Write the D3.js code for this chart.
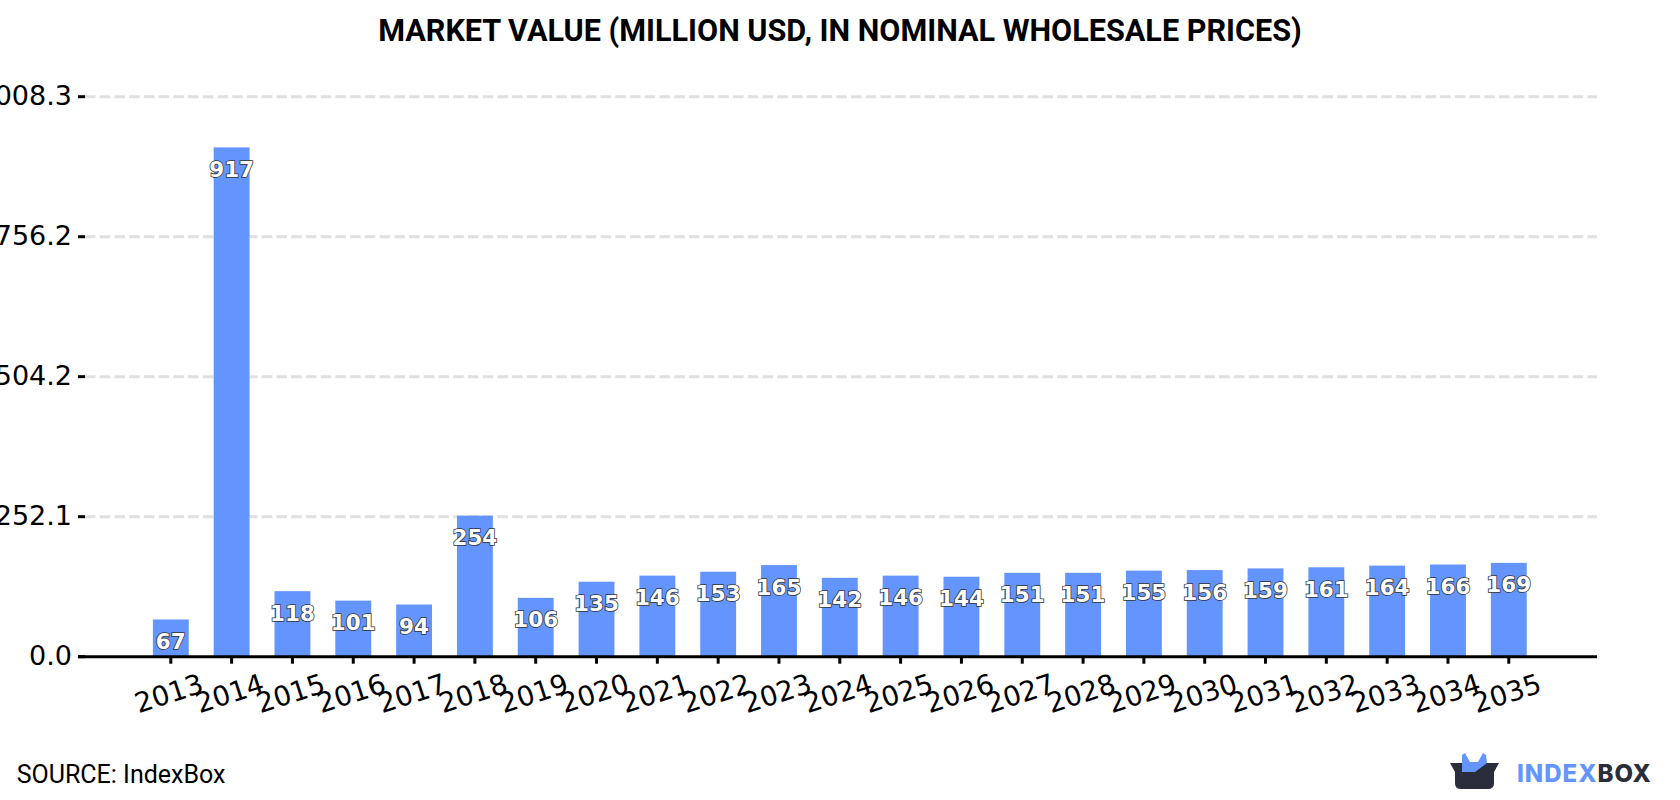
<!DOCTYPE html>
<html>
<head>
<meta charset="utf-8">
<script src="https://cdn.jsdelivr.net/npm/d3@7/dist/d3.min.js"></script>
<style>
html,body{margin:0;padding:0;background:#fff;overflow:hidden}
svg{display:block}
</style>
</head>
<body>
<svg id="chart" width="1680" height="800"></svg>
<script>
const years = [2013,2014,2015,2016,2017,2018,2019,2020,2021,2022,2023,2024,2025,2026,2027,2028,2029,2030,2031,2032,2033,2034,2035];
const marketValue = [67,917,118,101,94,254,106,135,146,153,165,142,146,144,151,151,155,156,159,161,164,166,169];
const yTicks = [0,252.1,504.2,756.2,1008.3];
const chartTitle = "MARKET VALUE (MILLION USD, IN NOMINAL WHOLESALE PRICES)";
const sourceText = "SOURCE: IndexBox";

const svg = d3.select("#chart");
const plot = {left:85, right:1597, top:96.7, bottom:656.7};

const x = d3.scaleBand().domain(years).range([140.4,1539.2]).paddingInner(0.41).paddingOuter(0.205);
const y = d3.scaleLinear().domain([0,1008.3]).range([plot.bottom,plot.top]);

// Title
svg.append("text").attr("x",840).attr("y",41).attr("text-anchor","middle")
  .attr("font-family","Roboto").attr("font-weight",700).attr("font-size",30.6).attr("fill","#000")
  .text(chartTitle);

// Horizontal grid
svg.append("g").selectAll("line").data(yTicks.filter(d=>d>0)).join("line")
  .attr("x1",plot.left).attr("x2",plot.right)
  .attr("y1",d=>y(d)).attr("y2",d=>y(d))
  .attr("stroke","#e0e0e0").attr("stroke-width",3).attr("stroke-dasharray","10.5 4.23");

// Bars
svg.append("g").selectAll("rect").data(years).join("rect")
  .attr("x",d=>x(d)).attr("width",x.bandwidth())
  .attr("y",(d,i)=>y(marketValue[i]))
  .attr("height",(d,i)=>y(0)-y(marketValue[i]))
  .attr("fill","#6495ff");

// Value axis
const yAxis = d3.axisLeft(y).tickValues(yTicks).tickFormat(d3.format(".1f")).tickSize(7).tickPadding(6).offset(0);
const gy = svg.append("g").attr("transform",`translate(${plot.left},0)`).call(yAxis);
gy.select(".domain").remove();
gy.selectAll("line").attr("stroke","#000").attr("stroke-width",3);
gy.selectAll("text").attr("font-family","DejaVu Sans").attr("font-size",27).attr("fill","#000");

// Year axis
const xAxis = d3.axisBottom(x).tickSize(7).tickPadding(0);
const gx = svg.append("g").attr("transform",`translate(0,${plot.bottom})`).call(xAxis);
gx.select(".domain").remove();
gx.selectAll("line").attr("stroke","#000").attr("stroke-width",3);
gx.selectAll("text").attr("font-family","DejaVu Sans").attr("font-size",27.5).attr("fill","#000")
  .attr("text-anchor","middle").attr("dy",0).attr("y",0)
  .attr("transform","translate(1.1,45.7) rotate(-18)");
svg.append("line").attr("x1",78).attr("x2",1597).attr("y1",plot.bottom).attr("y2",plot.bottom)
  .attr("stroke","#000").attr("stroke-width",3);

// Value labels inside the bars
svg.append("g").selectAll("text").data(years).join("text")
  .attr("x",d=>x(d)+x.bandwidth()/2)
  .attr("y",(d,i)=>y(marketValue[i])+29.5)
  .attr("text-anchor","middle")
  .attr("font-family","DejaVu Sans").attr("font-weight",700).attr("font-size",21.5)
  .attr("fill","#fff").attr("stroke","#333").attr("stroke-width",1.6)
  .attr("paint-order","stroke")
  .text((d,i)=>marketValue[i]);

// Source note
svg.append("text").attr("x",16.7).attr("y",783.3)
  .attr("font-family","Roboto").attr("font-size",25).attr("fill","#000").text(sourceText);

// Brand mark: a box with a blue crown rising out of it
const logo = svg.append("g");
logo.append("path").attr("d","M1450 763 L1499 763 L1494 772 L1494 783 Q1494 789 1488 789 L1461 789 Q1455 789 1455 783 L1455 772 Z").attr("fill","#2b2d3a");
logo.append("path").attr("d","M1462 772 L1462 755 L1465 753 L1470 762 L1478 762 L1483 753 L1486 755 L1487 763 L1475 772 Z").attr("fill","#6495ff");
const brand = svg.append("text").attr("x",1517).attr("y",782)
  .attr("font-family","Inter").attr("font-weight",800).attr("font-size",24).attr("letter-spacing",1);
brand.append("tspan").attr("fill","#6495ff").text("INDEX");
brand.append("tspan").attr("fill","#2b2d3a").text("BOX");
</script>
</body>
</html>
